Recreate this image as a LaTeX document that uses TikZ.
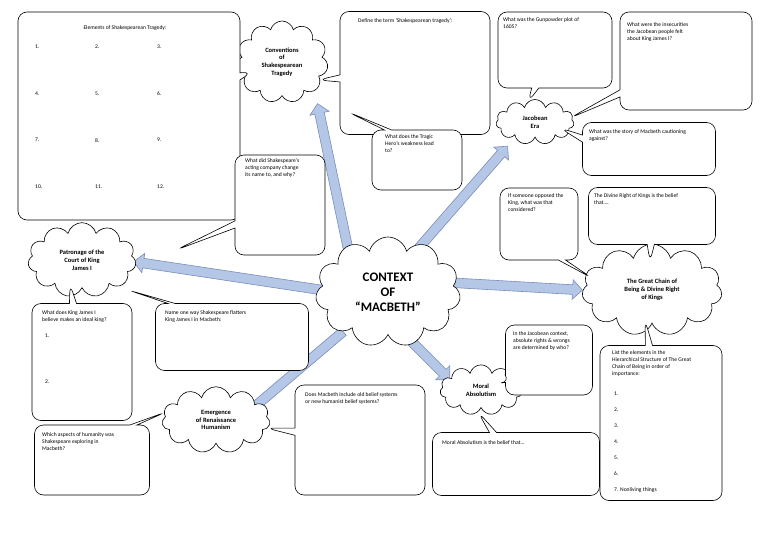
\documentclass[tikz,border=0pt]{standalone}
\usepackage{fontspec}
\setmainfont{Carlito}
\usetikzlibrary{shapes.symbols,shapes.callouts,shapes.arrows,calc}
\definecolor{afill}{HTML}{B4C7E7}
\definecolor{aline}{HTML}{7A8DB8}
\tikzset{
  txt/.style={font=\fontsize{5.6}{7}\selectfont, align=left, inner sep=0pt, anchor=north west},
  cl/.style={cloud, cloud puffs=11, draw, fill=white, line width=0.6pt, font=\fontsize{6.5}{7.8}\selectfont\bfseries, align=center, inner sep=0pt},
  co/.style={rectangle callout, draw, fill=white, rounded corners=9pt, line width=0.6pt, inner sep=0pt},
  barrow/.style={single arrow, draw=aline, fill=afill, line width=0.6pt, inner sep=4.5pt, single arrow head extend=5pt, minimum width=19pt},
}
\newcommand\blockarrow[2]{%
  \path let \p1=($(#2)-(#1)$), \n1={atan2(\y1,\x1)}, \n2={veclen(\x1,\y1)} in
    node[barrow, minimum height=\n2, rotate=\n1] at ($(#1)!0.5!(#2)$) {};}
\begin{document}
\begin{tikzpicture}[x=1pt,y=-1pt]
\useasboundingbox (0,0) rectangle (768,543);
% arrow endpoints
\coordinate (s1) at (350,258); \coordinate (e1) at (318,106);
\coordinate (s2) at (410,258); \coordinate (e2) at (506,148);
\coordinate (s3) at (440,282); \coordinate (e3) at (580,290);
\coordinate (s4) at (405,335); \coordinate (e4) at (448,378);
\coordinate (s5) at (345,330); \coordinate (e5) at (246,414);
\coordinate (s6) at (335,292); \coordinate (e6) at (136,262);
\blockarrow{s1}{e1}\blockarrow{s2}{e2}\blockarrow{s3}{e3}
\blockarrow{s4}{e4}\blockarrow{s5}{e5}\blockarrow{s6}{e6}
% center
\node[cl, minimum width=145pt, minimum height=110pt, font=\fontsize{13}{15}\selectfont\bfseries] (ctx) at (388,292) {CONTEXT\\OF\\“MACBETH”};
% clouds
\node[cl, minimum width=92pt, minimum height=82pt] (conv) at (282,62) {Conventions\\of\\Shakespearean\\Tragedy};
\node[cl, minimum width=78pt, minimum height=45pt] (jac) at (535,122) {Jacobean\\Era};
\node[cl, minimum width=108pt, minimum height=60pt] (pat) at (82,260) {Patronage of the\\Court of King\\James I};
\node[cl, minimum width=140pt, minimum height=65pt] (gcb) at (652,290) {The Great Chain of\\Being \& Divine Right\\of Kings};
\node[cl, minimum width=82pt, minimum height=45pt] (mor) at (481,390) {Moral\\Absolutism};
\node[cl, minimum width=108pt, minimum height=62pt] (ren) at (216,420) {Emergence\\of Renaissance\\Humanism};
% callouts
\node[co, minimum width=222pt, minimum height=208pt, callout absolute pointer={(252,72)}] (b1) at (129,116) {};
\node[txt, anchor=north] at (125,25) {Elements of Shakespearean Tragedy:};
\foreach \r/\y in {0/45,1/92,2/138,3/185}{
  \foreach \c/\x in {1/35,2/95,3/157}{
    \pgfmathtruncatemacro\n{\r*3+\c}
    \node[txt] at (\x,\y) {\n.};}}
\node[co, minimum width=150pt, minimum height=123pt, callout absolute pointer={(318,80)}] (b2) at (415,73) {};
\node[txt] at (358,18) {Define the term ‘Shakespearean tragedy’:};
\node[co, minimum width=90pt, minimum height=60pt, callout absolute pointer={(348,112)}] (b3) at (417,160) {};
\node[txt] at (385,134) {What does the Tragic\\Hero’s weakness lead\\to?};
\node[co, minimum width=114pt, minimum height=76pt, callout absolute pointer={(528,102)}] (b4) at (555,50) {};
\node[txt] at (503,17) {What was the Gunpowder plot of\\1605?};
\node[co, minimum width=132pt, minimum height=98pt, callout absolute pointer={(570,118)}] (b5) at (686,61) {};
\node[txt] at (627,22) {What were the insecurities\\the Jacobean people felt\\about King James I?};
\node[co, minimum width=133pt, minimum height=53pt, callout absolute pointer={(560,128)}] (b6) at (649,149) {};
\node[txt] at (589,129) {What was the story of Macbeth cautioning\\against?};
\node[co, minimum width=90pt, minimum height=100pt, callout absolute pointer={(176,250)}] (b7) at (280,205) {};
\node[txt] at (245,158) {What did Shakespeare’s\\acting company change\\its name to, and why?};
\node[co, minimum width=78pt, minimum height=72pt, callout absolute pointer={(592,278)}] (b8) at (539,224) {};
\node[txt] at (508,193) {If someone opposed the\\King, what was that\\considered?};
\node[co, minimum width=127pt, minimum height=57pt, callout absolute pointer={(650,262)}] (b9) at (652,216) {};
\node[txt] at (594,193) {The Divine Right of Kings is the belief\\that….};
\node[co, minimum width=100pt, minimum height=117pt, callout absolute pointer={(70,284)}] (b10) at (82,362) {};
\node[txt] at (42,310) {What does King James I\\believe makes an ideal king?};
\node[txt] at (45,334) {1.};
\node[txt] at (45,380) {2.};
\node[co, minimum width=153pt, minimum height=67pt, callout absolute pointer={(128,290)}] (b11) at (232,337) {};
\node[txt] at (165,310) {Name one way Shakespeare flatters\\King James I in Macbeth:};
\node[co, minimum width=87pt, minimum height=70pt, callout absolute pointer={(510,382)}] (b12) at (549,360) {};
\node[txt] at (513,331) {In the Jacobean context,\\absolute rights \& wrongs\\are determined by who?};
\node[co, minimum width=122pt, minimum height=155pt, callout absolute pointer={(645,320)}] (b13) at (661,423) {};
\node[txt] at (612,350) {List the elements in the\\Hierarchical Structure of The Great\\Chain of Being in order of\\importance:};
\foreach \i/\y in {1/392,2/408,3/424,4/440,5/456,6/472}{\node[txt] at (614,\y) {\i.};}
\node[txt] at (614,487) {7. Nonliving things};
\node[co, minimum width=130pt, minimum height=110pt, callout absolute pointer={(266,428)}] (b14) at (360,440) {};
\node[txt] at (305,392) {Does Macbeth include old belief systems\\or new humanist belief systems?};
\node[co, minimum width=167pt, minimum height=63pt, callout absolute pointer={(478,412)}] (b15) at (516,464) {};
\node[txt] at (442,440) {Moral Absolutism is the belief that…};
\node[co, minimum width=115pt, minimum height=70pt, callout absolute pointer={(166,412)}] (b16) at (92,460) {};
\node[txt] at (42,432) {Which aspects of humanity was\\Shakespeare exploring in\\Macbeth?};
\end{tikzpicture}
\end{document}
